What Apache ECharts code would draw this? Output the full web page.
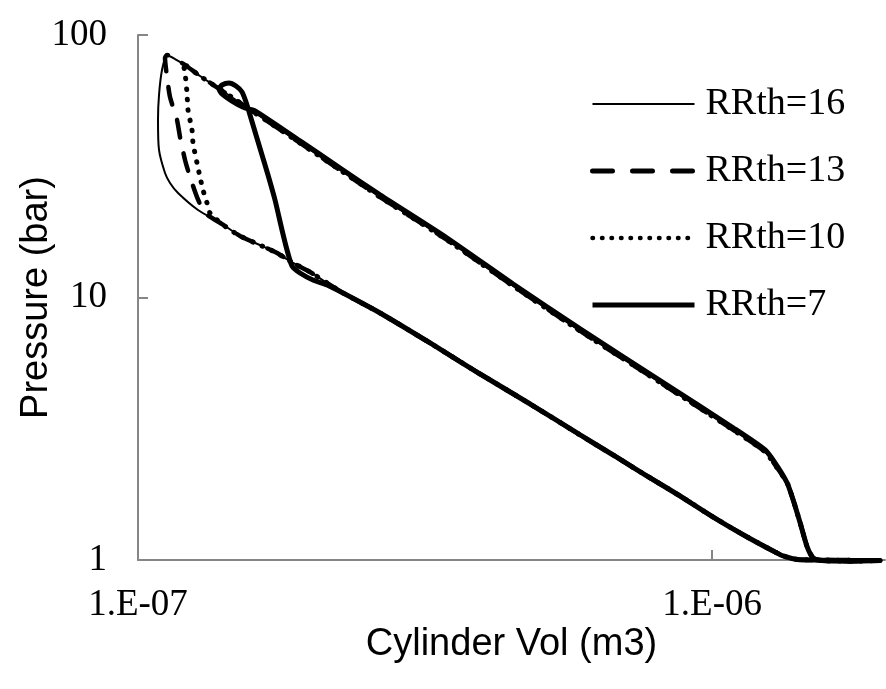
<!DOCTYPE html>
<html>
<head>
<meta charset="utf-8">
<script src="https://cdn.jsdelivr.net/npm/echarts@6/dist/echarts.min.js"></script>
<style>html,body{margin:0;padding:0;background:#fff}#c{width:886px;height:689px}</style>
</head>
<body>
<div id="c"></div>
<script>
// Tick values / labels
const xTickValues = [1e-7, 1e-6];
const xTickLabels = ['1.E-07', '1.E-06'];
const yTickValues = [1, 10, 100];
const yTickLabels = ['1', '10', '100'];
const seriesNames = ['RRth=16', 'RRth=13', 'RRth=10', 'RRth=7'];

// [Volume m3, Pressure bar]
// gas exchange + compression (shared by all), from BDC leftwards
const compressionShared = [
  [1.962e-6, 0.995], [1.74e-6, 0.997], [1.55e-6, 1.0], [1.4063e-6, 1.005],
  [1.3295e-6, 1.036], [1.2773e-6, 1.082], [1.1507e-6, 1.224], [1.004e-6, 1.458],
  [8.795e-7, 1.753], [7.704e-7, 2.089], [6.722e-7, 2.512], [5.890e-7, 2.994],
  [4.820e-7, 3.929], [3.9435e-7, 5.111], [3.2266e-7, 6.71], [2.6398e-7, 8.73],
  [2.2758e-7, 10.40]
];
// late compression (RRth = 16, 13, 10)
const compressionLate = [
  [2.1345e-7, 11.36], [1.9933e-7, 12.51], [1.8621e-7, 13.54], [1.7464e-7, 14.77],
  [1.6444e-7, 15.71], [1.5055e-7, 17.15], [1.4007e-7, 19.05]
];
const rr16Combustion = [
  [1.2721e-7, 21.54], [1.1741e-7, 25.0], [1.137e-7, 27.3], [1.1144e-7, 29.8],
  [1.0879e-7, 36.47], [1.0835e-7, 47.45], [1.0879e-7, 59.09], [1.1011e-7, 73.56],
  [1.1234e-7, 83.9]
];
const rr13Combustion = [
  [1.3083e-7, 20.98], [1.267e-7, 24.14], [1.232e-7, 28.77], [1.2075e-7, 33.4],
  [1.1836e-7, 40.88], [1.1694e-7, 47.45], [1.137e-7, 58.06], [1.1234e-7, 69.18],
  [1.1144e-7, 81.7], [1.1234e-7, 83.9]
];
const rr10Combustion = [
  [1.3349e-7, 20.98], [1.3189e-7, 22.91], [1.2979e-7, 25.67], [1.2824e-7, 28.77],
  [1.267e-7, 32.53], [1.2469e-7, 38.78], [1.2419e-7, 43.47], [1.2221e-7, 51.8],
  [1.2172e-7, 60.13], [1.2075e-7, 71.65], [1.1979e-7, 78.2]
];
const rr7Combustion = [
  [2.1345e-7, 11.16], [2.0174e-7, 11.66], [1.915e-7, 12.40], [1.8547e-7, 13.18],
  [1.8178e-7, 15.17], [1.7818e-7, 18.07], [1.7324e-7, 23.52], [1.6844e-7, 29.29],
  [1.6444e-7, 34.9], [1.6052e-7, 41.6], [1.5671e-7, 49.58], [1.5422e-7, 55.56],
  [1.5178e-7, 60.66], [1.4815e-7, 63.93], [1.4405e-7, 65.64], [1.4007e-7, 64.5],
  [1.3839e-7, 62.28], [1.4007e-7, 59.6], [1.4579e-7, 56.05], [1.536e-7, 52.72]
];
// expansion line near peak (RRth = 16, 13)
const expansionEarly = [
  [1.160e-7, 81.0], [1.2075e-7, 76.87]
];
// expansion line (RRth = 16, 13, 10)
const expansionShared = [
  [1.2824e-7, 69.8], [1.3619e-7, 63.93], [1.4638e-7, 57.54], [1.5989e-7, 50.46],
  [1.915e-7, 38.78], [2.2486e-7, 30.6], [2.6398e-7, 24.14], [3.454e-7, 16.56],
  [4.501e-7, 11.06], [5.8897e-7, 7.455], [8.3484e-7, 4.56], [1.0879e-6, 3.13],
  [1.237e-6, 2.579], [1.2979e-6, 2.242]
];
// expansion line (RRth = 7)
const rr7Expansion = [
  [1.5989e-7, 51.4], [1.915e-7, 39.5], [2.2486e-7, 31.15], [2.6398e-7, 24.6],
  [3.454e-7, 16.85], [4.501e-7, 11.26], [5.8897e-7, 7.59], [8.3484e-7, 4.64],
  [1.0879e-6, 3.19], [1.237e-6, 2.625], [1.2979e-6, 2.28]
];
// blowdown + exhaust to BDC (shared)
const blowdown = [
  [1.351e-6, 1.965], [1.3839e-6, 1.693], [1.4234e-6, 1.383], [1.4638e-6, 1.121],
  [1.4994e-6, 1.018], [1.55e-6, 0.995], [1.74e-6, 0.99], [1.962e-6, 0.995]
];

const rr16 = [].concat(compressionShared, compressionLate, rr16Combustion, expansionEarly, expansionShared, blowdown);
const rr13 = [].concat(compressionShared, compressionLate, rr13Combustion, expansionEarly, expansionShared, blowdown);
const rr10 = [].concat(compressionShared, compressionLate, rr10Combustion, expansionShared, blowdown);
const rr7 = [].concat(compressionShared, rr7Combustion, rr7Expansion, blowdown);

const axisColor = '#868686';
const styles = [
  {width: 2},
  {width: 4.5, type: [18, 16], cap: 'round'},
  {width: 5, type: [0.5, 10], cap: 'round'},
  {width: 5}
];
const legendStyles = [
  {width: 2},
  {width: 5, type: [20, 20], cap: 'round'},
  {width: 4.5, type: [0.5, 9], cap: 'round'},
  {width: 5}
];
const chart = echarts.init(document.getElementById('c'), null, {renderer: 'canvas'});
function mkSeries(i, data, z) {
  return {
    name: seriesNames[i], type: 'line', data: data, showSymbol: false, symbol: 'none', symbolSize: 0,
    smooth: 0.2, clip: false, z: z,
    lineStyle: Object.assign({color: '#000'}, styles[i]),
    itemStyle: {color: '#000'}
  };
}
chart.setOption({
  animation: false,
  backgroundColor: '#fff',
  grid: {left: 138, right: 1, top: 35, bottom: 129, outerBoundsMode: 'none', containLabel: false},
  legend: {
    orient: 'vertical', left: 585, top: 79,
    itemWidth: 102, itemHeight: 20, itemGap: 27,
    itemStyle: {opacity: 0},
    data: seriesNames.map(function (n, i) {
      return {name: n, itemStyle: {opacity: 0}, lineStyle: Object.assign({color: '#000', opacity: 1}, legendStyles[i])};
    }),
    textStyle: {fontFamily: 'Liberation Serif', fontSize: 38, color: '#000', lineHeight: 40, padding: [0, 0, 0, 6]}
  },
  xAxis: {
    type: 'log', logBase: 10, min: 1e-7, max: 2e-6,
    name: 'Cylinder Vol (m3)', nameLocation: 'middle', nameGap: 66, nameMoveOverlap: false,
    nameTextStyle: {fontFamily: 'Liberation Sans', fontSize: 38, color: '#000'},
    axisLine: {show: true, lineStyle: {color: axisColor, width: 2}},
    axisTick: {show: true, inside: true, length: 10, customValues: xTickValues, lineStyle: {color: axisColor, width: 2}},
    axisLabel: {
      customValues: xTickValues, margin: 27,
      fontFamily: 'Liberation Serif', fontSize: 37, color: '#000',
      formatter: function (v) {
        for (let i = 0; i < xTickValues.length; i++) {
          if (Math.abs(Math.log10(v) - Math.log10(xTickValues[i])) < 1e-6) return xTickLabels[i];
        }
        return '';
      }
    },
    splitLine: {show: false}
  },
  yAxis: {
    type: 'log', logBase: 10, min: 1, max: 100,
    name: 'Pressure (bar)', nameLocation: 'middle', nameGap: 82, nameRotate: 90, nameMoveOverlap: false,
    nameTextStyle: {fontFamily: 'Liberation Sans', fontSize: 38, color: '#000'},
    axisLine: {show: true, lineStyle: {color: axisColor, width: 2}},
    axisTick: {show: true, inside: true, length: 10, customValues: yTickValues, lineStyle: {color: axisColor, width: 2}},
    axisLabel: {
      customValues: yTickValues, margin: 31,
      fontFamily: 'Liberation Serif', fontSize: 37, color: '#000',
      formatter: function (v) {
        for (let i = 0; i < yTickValues.length; i++) {
          if (Math.abs(Math.log10(v) - Math.log10(yTickValues[i])) < 1e-6) return yTickLabels[i];
        }
        return '';
      }
    },
    splitLine: {show: false}
  },
  series: [
    mkSeries(0, rr16, 4),
    mkSeries(1, rr13, 3),
    mkSeries(2, rr10, 2),
    mkSeries(3, rr7, 5)
  ]
});
</script>
</body>
</html>
